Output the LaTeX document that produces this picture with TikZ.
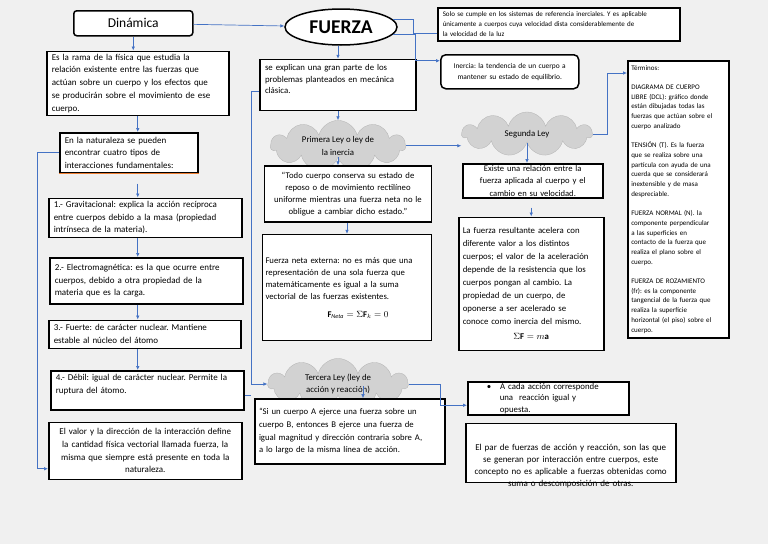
\documentclass[tikz,border=0pt]{standalone}
\usepackage{fontspec}
\setmainfont{Carlito}
\usepackage{amsmath}
\usetikzlibrary{positioning, arrows.meta, shapes.geometric, shapes.symbols}
\definecolor{fondo}{RGB}{240,240,240}
\definecolor{azul}{RGB}{68,114,196}
\definecolor{nube}{RGB}{210,210,210}
\definecolor{naranja}{RGB}{237,125,49}
\frenchspacing

\tikzset{
  caja/.style={draw, line width=1.5pt, fill=white, inner xsep=5pt, inner ysep=2pt, align=left, anchor=north west, font=\fontsize{9}{12.7}\selectfont},
  nota/.style={caja, font=\fontsize{7}{10.2}\selectfont},
  nubeley/.style={cloud, cloud puffs=11, cloud ignores aspect, fill=nube, draw=nube!85!black, line width=0.3pt, inner sep=1pt, align=center, font=\fontsize{8.8}{12.5}\selectfont},
  flecha/.style={draw=azul, line width=0.7pt, -{Latex[length=4pt,width=3.5pt]}},
  linea/.style={draw=azul, line width=0.7pt}
}

\begin{document}
\begin{tikzpicture}[x=1pt, y=-1pt]
\fill[fondo] (0,0) rectangle (768,544);
\useasboundingbox (0,0) rectangle (768,544);

% columna izquierda
\node[caja, rounded corners=3pt, align=center, text width=109pt, minimum height=25pt, font=\fontsize{13.5}{15}\selectfont] (Din) at (73,10) {Dinámica};
\node[caja, below=14pt of Din, anchor=north, xshift=4.5pt, text width=172pt, minimum height=64pt, inner ysep=1pt] (Rama) {Es la rama de la física que estudia la\\ relación existente entre las fuerzas que\\ actúan sobre un cuerpo y los efectos que\\ se producirán sobre el movimiento de ese\\ cuerpo.};
\node[caja, below=16pt of Rama.south west, anchor=north west, xshift=13pt, text width=128pt, minimum height=40pt, inner ysep=1pt] (Nat) {En la naturaleza se pueden\\ encontrar cuatro tipos de\\ interacciones fundamentales:};
\node[caja, below=24pt of Nat.south west, anchor=north west, xshift=-11pt, text width=183pt, minimum height=39pt, inner ysep=1pt] (Grav) {1.- Gravitacional: explica la acción recíproca\\ entre cuerpos debido a la masa (propiedad\\ intrínseca de la materia).};
\node[caja, below=19pt of Grav.south west, anchor=north west, xshift=1pt, text width=183pt, minimum height=46pt] (Elec) {2.- Electromagnética: es la que ocurre entre\\ cuerpos, debido a otra propiedad de la\\ materia que es la carga.};
\node[caja, below=15pt of Elec.south west, anchor=north west, xshift=-1pt, text width=182pt, minimum height=28pt, inner ysep=1pt] (Fuer) {3.- Fuerte: de carácter nuclear. Mantiene\\ estable al núcleo del átomo};
\node[caja, below=21pt of Fuer.south west, anchor=north west, xshift=2pt, text width=183pt, minimum height=39pt, inner ysep=1pt] (Deb) {4.- Débil: igual de carácter nuclear. Permite la\\ ruptura del átomo.\\ ~};
\node[caja, below=11pt of Deb.south west, anchor=north west, xshift=-2pt, align=center, text width=183pt, minimum height=57pt] (Valor) {El valor y la dirección de la interacción define\\ la cantidad física vectorial llamada fuerza, la\\ misma que siempre está presente en toda la\\ naturaleza.};
\draw[naranja, line width=0.8pt] (Nat.south west) -- (Nat.south east);

% centro
\node[draw, ellipse, line width=1.5pt, fill=white, minimum width=112pt, minimum height=36pt, font=\bfseries\fontsize{19.5}{21}\selectfont] (Fuerza) at (341,27) {FUERZA};
\node[caja, below=13pt of Fuerza, anchor=north, xshift=-3pt, text width=146pt, minimum height=51pt, inner ysep=1pt, font=\fontsize{8.8}{11.5}\selectfont] (Expl) {se explican una gran parte de los\\ problemas planteados en mecánica\\ clásica.\\ ~};
\node[nubeley, below=9pt of Expl, minimum width=135pt, minimum height=46pt] (Primera) {Primera Ley o ley de\\ la inercia};
\node[caja, below=8pt of Primera, anchor=north, xshift=10pt, align=center, inner xsep=3pt, text width=161pt, minimum height=56pt, font=\fontsize{8.7}{12}\selectfont] (Todo) {“Todo cuerpo conserva su estado de\\ reposo o de movimiento rectilíneo\\ uniforme mientras una fuerza neta no le\\ obligue a cambiar dicho estado.”};
\node[caja, below=11pt of Todo.south west, anchor=north west, xshift=-2pt, inner xsep=3pt, text width=163pt, minimum height=106pt, font=\fontsize{8.7}{12}\selectfont] (Neta) {Fuerza neta externa: no es más que una\\ representación de una sola fuerza que\\ matemáticamente es igual a la suma\\ vectorial de las fuerzas existentes.\\[6pt] \hspace*{62pt}$\mathbf{F}_{\mathit{Neta}}=\Sigma\mathbf{F}_k=0$};
\node[nubeley, at={(338,384)}, minimum width=140pt, minimum height=46pt] (Tercera) {Tercera Ley (ley de\\ acción y reacción)};
\node[caja, below=3pt of Tercera, anchor=north, xshift=12pt, inner xsep=4pt, text width=182pt, minimum height=65pt, font=\fontsize{8.7}{12.7}\selectfont] (SiUn) {“Si un cuerpo A ejerce una fuerza sobre un\\ cuerpo B, entonces B ejerce una fuerza de\\ igual magnitud y dirección contraria sobre A,\\ a lo largo de la misma línea de acción.};

% derecha
\node[nota, text width=232pt, minimum height=33pt] (Solo) at (437,7) {Solo se cumple en los sistemas de referencia inerciales. Y es aplicable\\ únicamente a cuerpos cuya velocidad dista considerablemente de\\ la velocidad de la luz};
\node[nota, rounded corners=5pt, align=center, text width=128pt, minimum height=34pt, font=\fontsize{7.4}{10.8}\selectfont] (Inercia) at (440,54) {Inercia: la tendencia de un cuerpo a\\ mantener su estado de equilibrio.};
\node[nubeley, at={(527,134)}, minimum width=130pt, minimum height=44pt] (Segunda) {Segunda Ley};
\node[caja, align=center, text width=130pt, minimum height=34pt, inner ysep=0pt, font=\fontsize{8.6}{12.6}\selectfont] (Existe) at (462,163) {Existe una relación entre la\\ fuerza aplicada al cuerpo y el\\ cambio en su velocidad.};
\node[caja, below=18pt of Existe.south west, anchor=north west, xshift=-4pt, inner xsep=4pt, text width=137pt, minimum height=133pt, font=\fontsize{8.8}{13}\selectfont] (Result) {La fuerza resultante acelera con\\ diferente valor a los distintos\\ cuerpos; el valor de la aceleración\\ depende de la resistencia que los\\ cuerpos pongan al cambio. La\\ propiedad de un cuerpo, de\\ oponerse a ser acelerado se\\ conoce como inercia del mismo.\\[2pt] \makebox[\linewidth]{$\Sigma\mathbf{F}=m\mathbf{a}$}};
\node[nota, text width=94pt, inner xsep=3.5pt, minimum height=277pt, font=\fontsize{7}{9.7}\selectfont] (Terminos) at (627,60) {Términos:\\[9.7pt] DIAGRAMA DE CUERPO\\ LIBRE (DCL): gráfico donde\\ están dibujadas todas las\\ fuerzas que actúan sobre el\\ cuerpo analizado\\[9.7pt] TENSIÓN (T). Es la fuerza\\ que se realiza sobre una\\ partícula con ayuda de una\\ cuerda que se considerará\\ inextensible y de masa\\ despreciable.\\[9.7pt] FUERZA NORMAL (N). la\\ componente perpendicular\\ a las superficies en\\ contacto de la fuerza que\\ realiza el plano sobre el\\ cuerpo.\\[9.7pt] FUERZA DE ROZAMIENTO\\ (fr): es la componente\\ tangencial de la fuerza que\\ realiza la superficie\\ horizontal (el piso) sobre el\\ cuerpo.};
\node[caja, text width=151pt, minimum height=33pt, inner ysep=1pt, font=\fontsize{8.8}{11.5}\selectfont] (ACada) at (467,381) {\hspace*{14pt}•\hspace{9pt}A cada acción corresponde\\ \hspace*{27pt}una\ \ reacción igual y\\ \hspace*{27pt}opuesta.};
\node[caja, below=7pt of ACada.south west, anchor=north west, xshift=-2pt, align=center, text width=200pt, minimum height=59pt, inner ysep=0pt, text height=27pt, text depth=32pt, font=\fontsize{9}{12}\selectfont] (Par) {El par de fuerzas de acción y reacción, son las que\\ se generan por interacción entre cuerpos, este\\ concepto no es aplicable a fuerzas obtenidas como\\ suma o descomposición de otras.};

% conectores
\coordinate (Eje) at (Rama.south);
\coordinate (Tronco) at ([xshift=-8pt,yshift=-6pt]Expl.west);
\draw[flecha] (Din) -- (Fuerza);
\draw[flecha] (Din.south) -- (Din.south |- Rama.north);
\draw[flecha] (Rama.south) -- (Rama.south |- Nat.north);
\draw[flecha, shorten <=10pt] (Nat.south -| Eje) -- (Grav.north -| Eje);
\draw[flecha] (Grav.south -| Eje) -- (Elec.north -| Eje);
\draw[flecha] (Elec.south -| Eje) -- (Fuer.north -| Eje);
\draw[flecha] (Fuer.south -| Eje) -- (Deb.north -| Eje);
\draw[flecha] (Nat.west) -- ++(-22pt,0) |- ([yshift=-18pt]Valor.west);
\draw[linea] (Fuerza.8) -- ++(20pt,0) |- ([yshift=-9pt]Solo.west);
\draw[flecha] (Fuerza.-8) -- ++(22pt,0) |- ([yshift=11pt]Inercia.west);
\draw[flecha] (Expl.north |- Fuerza.south) -- (Expl.north);
\draw[flecha] (Expl.south) -- (Primera.north);
\draw[flecha] (Primera.east) -- (Primera.east -| Segunda.west);
\draw[flecha] (Segunda.east) -- ++(15pt,0) |- ([yshift=-13pt]Terminos.north west);
\draw[flecha] (Segunda.south) -- (Segunda.south |- Existe.north);
\draw[flecha, shorten <=9pt] (Result.north |- Existe.south) -- (Result.north);
\draw[flecha] (Primera.south) -- (Primera.south |- Todo.north);
\draw[flecha] (Todo.south -| Neta.north) -- (Neta.north);
\draw[flecha] ([yshift=-6pt]Expl.west) -- (Tronco) |- (Tercera.west);
\draw[linea] ([yshift=-5pt]Deb.east) -- ([yshift=-5pt]Deb.east -| Tronco);
\draw[flecha] ([xshift=13pt,yshift=12pt]SiUn.north) -- ([xshift=13pt]SiUn.north);
\draw[flecha] (Tercera.east) -- ++(32pt,0) |- ([yshift=-7pt]ACada.west);
\end{tikzpicture}
\end{document}
